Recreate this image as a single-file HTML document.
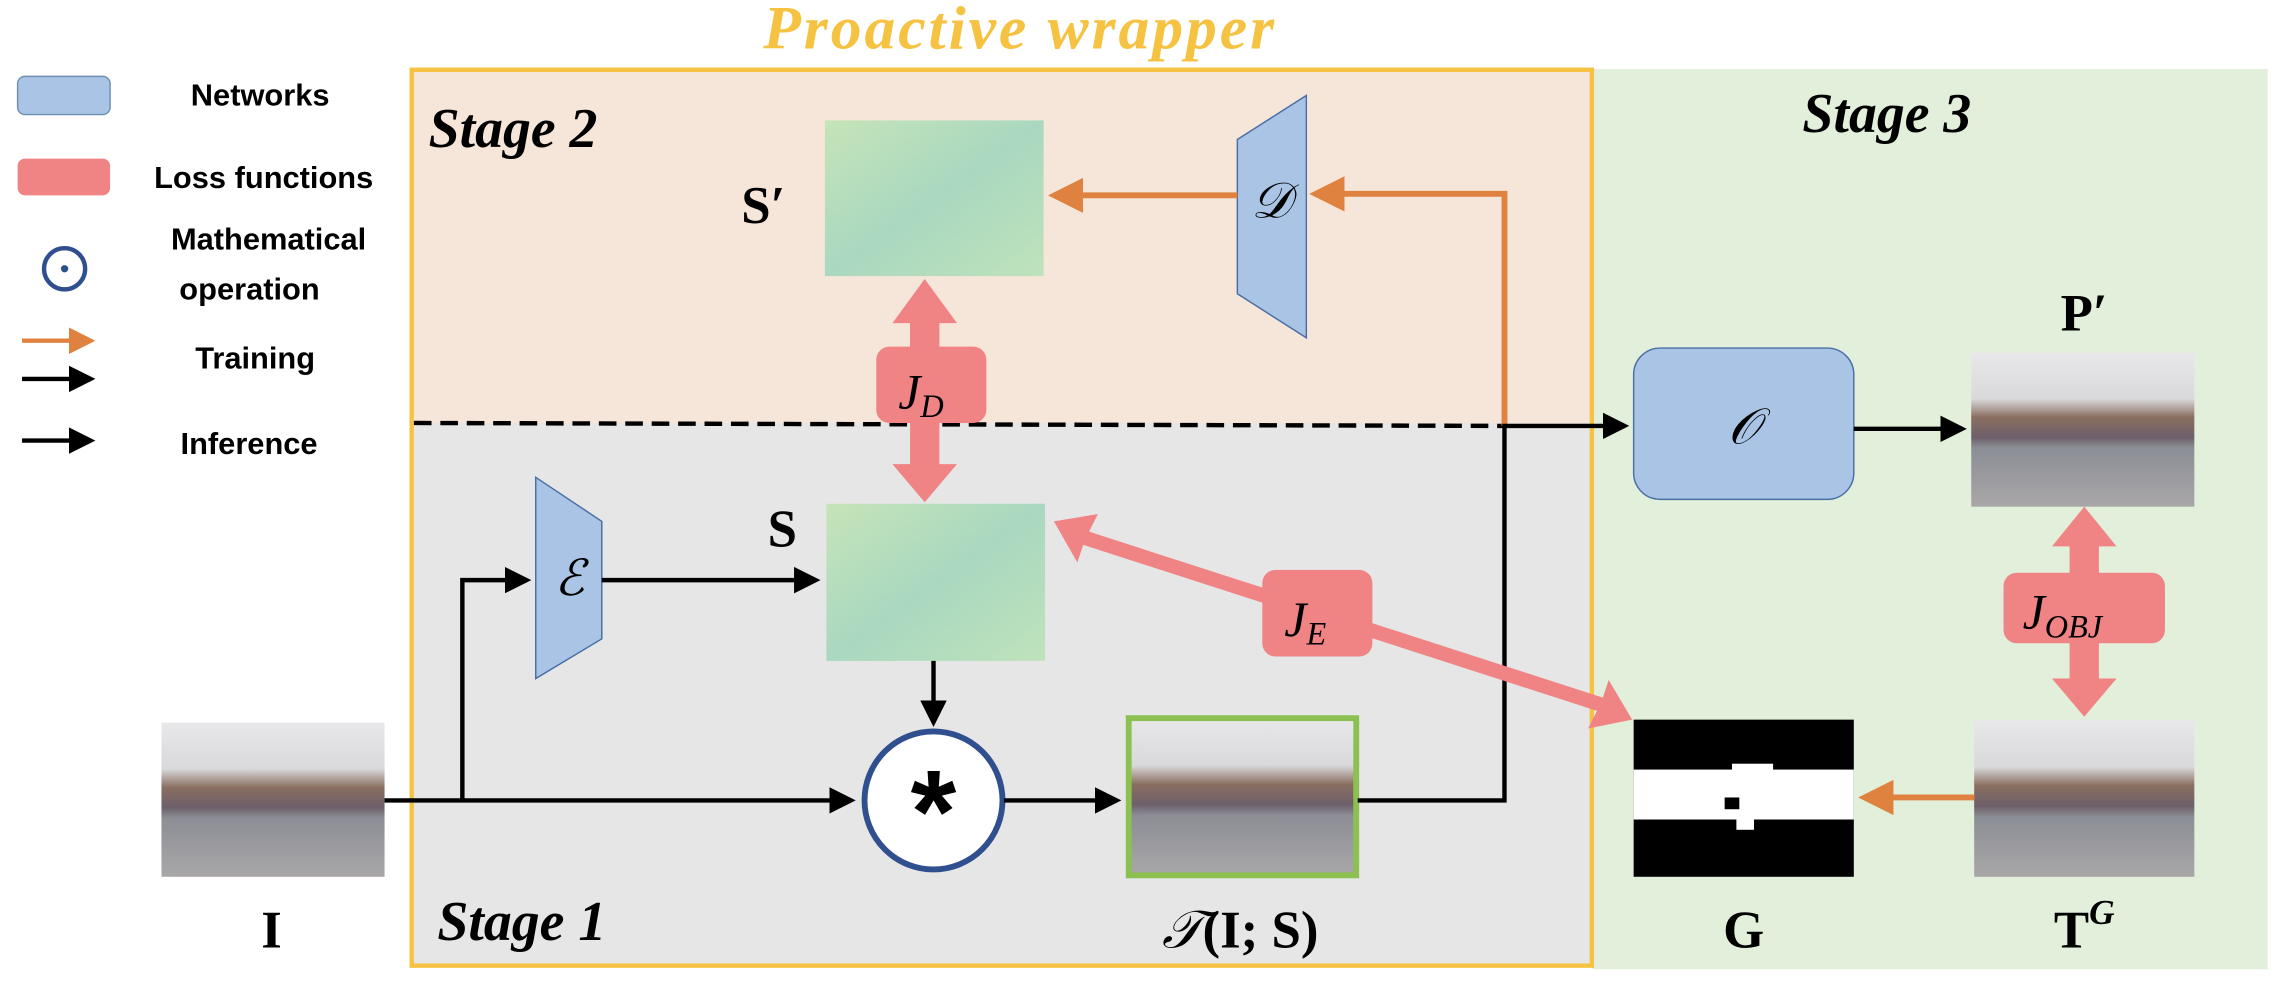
<!DOCTYPE html>
<html><head><meta charset="utf-8"><style>
html,body{margin:0;padding:0;background:#fff;}
svg{display:block;}
text{font-family:"Liberation Serif",serif;}
.lg{font-family:"Liberation Sans",sans-serif;font-weight:bold;font-size:21px;fill:#000;}
.st{font-family:"Liberation Serif",serif;font-weight:bold;font-style:italic;font-size:38px;fill:#000;}
.lb{font-family:"Liberation Serif",serif;font-weight:bold;font-size:36px;fill:#000;}
.it{font-family:"Liberation Serif",serif;font-style:italic;font-size:34px;fill:#000;}
</style></head><body>
<svg width="2278" height="984" viewBox="0 0 1552 670" preserveAspectRatio="none" xmlns="http://www.w3.org/2000/svg">
<defs>
<marker id="ab" markerWidth="6" markerHeight="6" refX="5" refY="3" orient="auto" markerUnits="strokeWidth"><path d="M0,0 L6,3 L0,6 z" fill="#000"/></marker>
<marker id="ao" markerWidth="6" markerHeight="6" refX="5" refY="3" orient="auto" markerUnits="strokeWidth"><path d="M0,0 L6,3 L0,6 z" fill="#e0823f"/></marker>
<linearGradient id="ph" x1="0" y1="0" x2="0" y2="1">
<stop offset="0" stop-color="#e8e8ea"/><stop offset="0.3" stop-color="#d9d9dc"/><stop offset="0.42" stop-color="#8a6f60"/><stop offset="0.55" stop-color="#6d5f6a"/><stop offset="0.62" stop-color="#8c8e96"/><stop offset="1" stop-color="#a9a7a8"/></linearGradient>
<linearGradient id="gr" x1="0" y1="0" x2="1" y2="1"><stop offset="0" stop-color="#c6e4b8"/><stop offset="0.5" stop-color="#a9d8c0"/><stop offset="1" stop-color="#bfe2bb"/></linearGradient>
</defs>
<rect x="1085" y="47" width="460" height="613" fill="#e2efda"/>
<rect x="282" y="49" width="801" height="239" fill="#f6e5d9"/>
<rect x="282" y="288" width="801" height="368" fill="#e6e6e6"/>
<rect x="280.5" y="47.5" width="804" height="610" fill="none" stroke="#f5c242" stroke-width="3"/>
<text x="695" y="33" text-anchor="middle" style="font-family:'Liberation Serif',serif;font-weight:bold;font-style:italic;font-size:42px;fill:#f5c242;letter-spacing:2px">Proactive wrapper</text>
<line x1="282" y1="288" x2="1025" y2="290" stroke="#000" stroke-width="3" stroke-dasharray="12,6"/>
<text class="st" x="292" y="100">Stage 2</text>
<text class="st" x="298" y="640">Stage 1</text>
<text class="st" x="1228" y="90">Stage 3</text>
<rect x="12" y="52" width="63" height="26" rx="5" fill="#a9c4e4" stroke="#6f8fb8"/>
<text class="lg" x="130" y="72">Networks</text>
<rect x="12" y="108" width="63" height="25" rx="5" fill="#f08484"/>
<text class="lg" x="105" y="128">Loss functions</text>
<circle cx="44" cy="183" r="14" fill="none" stroke="#2f4f8f" stroke-width="3"/><circle cx="44" cy="183" r="2.5" fill="#2f4f8f"/>
<text class="lg" x="183" y="170" text-anchor="middle">Mathematical</text>
<text class="lg" x="170" y="204" text-anchor="middle">operation</text>
<line x1="15" y1="232" x2="62" y2="232" stroke="#e0823f" stroke-width="3" marker-end="url(#ao)"/>
<text class="lg" x="133" y="251">Training</text>
<line x1="15" y1="258" x2="62" y2="258" stroke="#000" stroke-width="3" marker-end="url(#ab)"/>
<line x1="15" y1="300" x2="62" y2="300" stroke="#000" stroke-width="3" marker-end="url(#ab)"/>
<text class="lg" x="123" y="309">Inference</text>
<rect x="562" y="82" width="149" height="106" fill="url(#gr)"/>
<text class="lb" x="505" y="152">S′</text>
<polygon points="843,95 890,65 890,230 843,200" fill="#a9c4e4" stroke="#4a6fa8" stroke-width="1"/>
<text class="it" x="866" y="148" text-anchor="middle">𝒟</text>
<polyline points="1025,290 1025,132 896,132" fill="none" stroke="#e0823f" stroke-width="4" marker-end="url(#ao)"/>
<line x1="843" y1="133" x2="718" y2="133" stroke="#e0823f" stroke-width="4" marker-end="url(#ao)"/>
<polygon points="630,190 652,220 640,220 640,316 652,316 630,342 608,316 620,316 620,220 608,220" fill="#f08484"/>
<rect x="597" y="236" width="75" height="52" rx="9" fill="#f08484"/>
<text class="it" x="612" y="278">J<tspan font-size="22" dy="6">D</tspan></text>
<polygon points="365,325 410,355 410,435 365,462" fill="#a9c4e4" stroke="#4a6fa8" stroke-width="1"/>
<text class="it" x="388" y="405" text-anchor="middle">ℰ</text>
<rect x="563" y="343" width="149" height="107" fill="url(#gr)"/>
<text class="lb" x="523" y="372">S</text>
<line x1="410" y1="395" x2="556" y2="395" stroke="#000" stroke-width="3" marker-end="url(#ab)"/>
<rect x="110" y="492" width="152" height="105" fill="url(#ph)"/>
<text class="lb" x="185" y="645" text-anchor="middle">I</text>
<line x1="262" y1="545" x2="580" y2="545" stroke="#000" stroke-width="3" marker-end="url(#ab)"/>
<polyline points="315,545 315,395 359,395" fill="none" stroke="#000" stroke-width="3" marker-end="url(#ab)"/>
<circle cx="636" cy="545" r="47" fill="#fff" stroke="#2f4f8f" stroke-width="4"/>
<text x="636" y="580" text-anchor="middle" style="font-family:'Liberation Sans',sans-serif;font-weight:bold;font-size:80px">*</text>
<line x1="636" y1="450" x2="636" y2="492" stroke="#000" stroke-width="3" marker-end="url(#ab)"/>
<line x1="684" y1="545" x2="761" y2="545" stroke="#000" stroke-width="3" marker-end="url(#ab)"/>
<rect x="769" y="489" width="155" height="107" fill="url(#ph)" stroke="#8cc152" stroke-width="4"/>
<text class="lb" x="845" y="645" text-anchor="middle"><tspan font-style="italic" font-weight="normal">𝒯</tspan>(I; S)</text>
<polyline points="925,545 1025,545 1025,290 1107,290" fill="none" stroke="#000" stroke-width="3" marker-end="url(#ab)"/>
<rect x="1113" y="237" width="150" height="103" rx="18" fill="#a9c4e4" stroke="#4a6fa8" stroke-width="1"/>
<text class="it" x="1188" y="302" text-anchor="middle">𝒪</text>
<line x1="1263" y1="292" x2="1337" y2="292" stroke="#000" stroke-width="3" marker-end="url(#ab)"/>
<rect x="1343" y="240" width="152" height="105" fill="url(#ph)"/>
<text class="lb" x="1420" y="225" text-anchor="middle">P′</text>
<polygon points="1420,345 1442,372 1430,372 1430,462 1442,462 1420,488 1398,462 1410,462 1410,372 1398,372" fill="#f08484"/>
<rect x="1365" y="390" width="110" height="48" rx="9" fill="#f08484"/>
<text class="it" x="1378" y="428">J<tspan font-size="22" dy="6">OBJ</tspan></text>
<rect x="1345" y="490" width="150" height="107" fill="url(#ph)"/>
<text class="lb" x="1420" y="645" text-anchor="middle">T<tspan font-size="24" dy="-16" font-style="italic">G</tspan></text>
<line x1="1345" y1="543" x2="1270" y2="543" stroke="#e0823f" stroke-width="4" marker-end="url(#ao)"/>
<rect x="1113" y="490" width="150" height="107" fill="#000"/>
<rect x="1113" y="524" width="150" height="34" fill="#fff"/>
<rect x="1180" y="520" width="28" height="10" fill="#fff"/>
<rect x="1183" y="555" width="12" height="10" fill="#fff"/>
<rect x="1175" y="543" width="10" height="8" fill="#000"/>
<text class="lb" x="1188" y="645" text-anchor="middle">G</text>
<polygon points="718,355 748,350 742,362 1092,475 1096,463 1112,490 1082,496 1088,484 738,371 734,383" fill="#f08484"/>
<rect x="860" y="388" width="75" height="59" rx="9" fill="#f08484"/>
<text class="it" x="875" y="433">J<tspan font-size="22" dy="6">E</tspan></text>
</svg>
</body></html>
